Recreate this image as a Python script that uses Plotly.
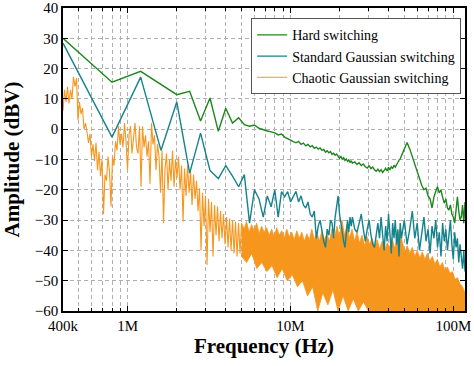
import numpy as np
import plotly.graph_objects as go

# ---------------- data ----------------
# harmonic numbers of the 400 kHz switching frequency used for the two harmonic spectra
harm_n = list(range(1, 61)) + list(range(62, 121, 2)) + list(range(125, 296, 5))
harm_f = [0.4e6 * n for n in harm_n]

hard_db = [30, 15.5, 19.1, 14.8, 11.4, 12.5, 2.7, 10.3, -0.7, 6.9,
           2.0, 3.8, 1.5, 1.0, 1.4, 0.3, -0.3, -0.6, -0.9, -1.2,
           -1.9, -1.6, -2.6, -3.0, -3.6,
           -4.1, -4.5, -4.0, -5.0, -4.6, -5.5, -5.0, -5.8, -5.4, -6.3,
           -5.9, -6.6, -6.2, -7.0, -6.7, -7.6, -7.1, -7.8, -7.4, -8.3,
           -7.9, -8.6, -8.2, -9.1, -9.6, -9.0, -9.9, -9.4, -10.3, -9.8,
           -10.6, -10.1, -11.0, -10.4, -11.2,
           -10.8, -11.6, -11.1, -12.0, -11.5, -12.4, -12.8, -12.1, -13.0, -12.5,
           -13.4, -13.9, -13.2, -14.0, -13.4, -14.3, -13.6, -12.9, -13.8, -12.6,
           -13.3, -12.4, -13.0, -11.9, -12.5, -11.4, -11.0, -10.2, -9.8, -8.8,
           -6.8, -4.4, -6.5, -9.2, -12.0, -14.5, -16.8, -18.5, -20.0, -19.5,
           -22.0, -23.0, -26.0, -22.5, -20.5, -19.0, -21.0, -20.0, -22.5, -24.4,
           -23.0, -26.0, -26.7, -25.0, -28.0, -29.0, -31.0, -26.0, -22.3, -27.0,
           -30.0, -28.9, -25.0, -31.0, -24.0]

std_db = [28.4, -2.6, 17.2, -7, 9, -14.5, -1.3, -13.6, -16.3, -12,
          -15.5, -19, -15, -31, -20, -23, -29, -22, -25.6, -20,
          -29, -20.6, -22.3, -20.6, -24,
          -22, -20.5, -24, -22, -25, -26, -24, -28, -29, -27,
          -36, -32, -30, -34, -37, -39, -33, -35, -30, -31,
          -36, -29, -26, -22, -28, -31, -35, -37, -39, -33,
          -30, -34, -29, -32, -29,
          -33, -34, -31, -28, -33, -37, -33, -30, -35, -38,
          -39, -34, -31, -36, -29, -35, -40, -32, -37, -28,
          -34, -41, -31, -36, -30, -38, -33, -42, -31, -36,
          -30, -38, -33, -27, -36, -31, -40, -34, -29, -37,
          -33, -41, -32, -36, -30, -39, -34, -42, -31, -37,
          -33, -40, -35, -30, -38, -43, -34, -39, -36, -44,
          -38, -42, -46, -40, -47]

# chaotic spectrum, low-frequency part (400 kHz - 5 MHz)
chaos_low_f = np.geomspace(4e5, 5e6, 120)
chaos_low_db = [6, 13, 9, 14, 8.5, 13, 10, 17.3, 14, 16.9,
                3, 9, 5, 7, 0, 2, -1, -4.5, -1.5, -9,
                -5, -10.5, -4.5, -13.5, -7.5, -15.5, -10, -28, -15, -17,
                -9, -14, -25.5, -9, -12, -4, -7, 1, -5, -1.5,
                -6, 2, -4, -13.5, -2, 1, -8, -3, 2, -6,
                -8, 1, -19, 1, -6, -2, -9, -4, -18, 2,
                -5, -2, -13.5, -5, -9, -21, -7, -31, -13, -8,
                -20, -10, -17, -7, -19, -10, -16, -9, -20, -12,
                -30.5, -13, -22, -12, -21, -14, -25, -15, -23, -17,
                -27, -19.5, -40, -21, -32, -22, -44.8, -23, -34, -24,
                -42, -25, -35, -25.5, -37, -27, -36, -28, -38, -29,
                -39, -29.5, -40, -30, -41, -30.5, -42, -31, -41, -31]

# chaotic spectrum, dense high-frequency band (5 MHz - 118 MHz): upper and lower edges
chaos_top_f = np.geomspace(5e6, 1.18e8, 90)
chaos_top_db = [-31, -33, -30.5, -34, -31.5, -33.5, -31, -34.5, -32, -34,
                -32.5, -35, -33, -35.5, -32.5, -35, -33.5, -36, -33, -35.5,
                -34, -36.5, -33.5, -36, -34, -37, -34.5, -36.5, -33, -36.5,
                -34, -37, -33.5, -36.5, -34.5, -37, -33, -36, -32, -35.5,
                -30, -35, -31.5, -36, -33, -37, -34, -37.5, -35, -38.5,
                -35.5, -38, -36, -39, -36.5, -39.5, -37, -40, -37.5, -39,
                -36, -39.5, -35.5, -33, -37, -40.5, -38.5, -41, -39, -42,
                -40, -42.5, -40.5, -43, -41, -43.5, -42, -44.5, -43, -45.5,
                -44, -46.5, -45.5, -47.5, -47, -49.5, -49, -51, -52, -54]
chaos_bot_f = np.geomspace(5e6, 1.18e8, 45)
chaos_bot_db = [-42, -44, -41, -46, -44, -47, -45, -49, -46, -50,
                -48, -52, -50, -55, -52, -60, -54, -58, -53, -60,
                -55, -60, -56, -60, -57, -60, -60, -60, -60, -60,
                -60, -60, -60, -60, -60, -60, -60, -60, -60, -60,
                -60, -60, -60, -60, -60]

x_tick_vals = [4e5, 1e6, 1e7, 1e8]
x_tick_text = ["400k", "1M", "10M", "100M"]
x_minor_vals = [m * d for d in (1e5, 1e6, 1e7) for m in range(2, 10)
                if 4e5 < m * d < 1.18e8]

GREEN = "#1f861f"
TEAL = "#15838e"
ORANGE = "#f7961d"

fig = go.Figure()

# orange dense band (area)
fig.add_trace(go.Scatter(
    x=list(chaos_top_f) + list(chaos_bot_f[::-1]),
    y=chaos_top_db + chaos_bot_db[::-1],
    mode="lines", fill="toself", fillcolor=ORANGE,
    line=dict(color=ORANGE, width=0.8), showlegend=False, hoverinfo="skip"))
fig.add_trace(go.Scatter(
    x=chaos_low_f, y=chaos_low_db, mode="lines",
    line=dict(color=ORANGE, width=1.1),
    name="Chaotic Gaussian switching", legendrank=3))
fig.add_trace(go.Scatter(
    x=harm_f, y=std_db, mode="lines",
    line=dict(color=TEAL, width=1.4),
    name="Standard Gaussian switching", legendrank=2))
fig.add_trace(go.Scatter(
    x=harm_f, y=hard_db, mode="lines",
    line=dict(color=GREEN, width=1.4),
    name="Hard switching", legendrank=1))

SERIF = "Liberation Serif"
GRID = "#b0b0b0"
fig.update_layout(
    width=474, height=366,
    margin=dict(l=63, r=9, t=8, b=55),
    paper_bgcolor="white", plot_bgcolor="white",
    font=dict(family=SERIF, size=15, color="black"),
    legend=dict(x=0.468, y=0.966, xanchor="left", yanchor="top",
                bgcolor="white", bordercolor="#555", borderwidth=1,
                font=dict(family=SERIF, size=14), tracegroupgap=0,
                itemwidth=30),
)
fig.update_xaxes(
    type="log", range=[np.log10(4e5), np.log10(1.18e8)], automargin=False,
    tickmode="array", tickvals=x_tick_vals, ticktext=x_tick_text,
    ticks="inside", ticklen=5, tickwidth=1, tickcolor="black",
    showline=True, linewidth=1.5, linecolor="black", mirror="ticks",
    showgrid=True, gridcolor=GRID, gridwidth=1, griddash="4px,3px",
    zeroline=False,
    minor=dict(tickmode="array", tickvals=x_minor_vals, ticks="inside",
               ticklen=3, tickcolor="black", showgrid=True,
               gridcolor=GRID, griddash="4px,3px", gridwidth=1),
    tickfont=dict(family=SERIF, size=15),
    title=dict(text="<b>Frequency (Hz)</b>", font=dict(family=SERIF, size=21),
               standoff=6),
)
fig.update_yaxes(
    range=[-60, 40], tickmode="linear", tick0=-60, dtick=10, automargin=False,
    ticks="inside", ticklen=5, tickwidth=1, tickcolor="black",
    showline=True, linewidth=1.5, linecolor="black", mirror="ticks",
    showgrid=True, gridcolor=GRID, gridwidth=1, griddash="4px,3px",
    zeroline=False,
    tickfont=dict(family=SERIF, size=15),
    title=dict(text="<b>Amplitude (dBV)</b>", font=dict(family=SERIF, size=21),
               standoff=14),
)

# remove the browser's default page margin so the figure sits at the window origin
fig.write_html("out.html",
               config={"displayModeBar": False},
               post_script="document.body.style.margin='0';document.body.style.overflow='hidden';")
